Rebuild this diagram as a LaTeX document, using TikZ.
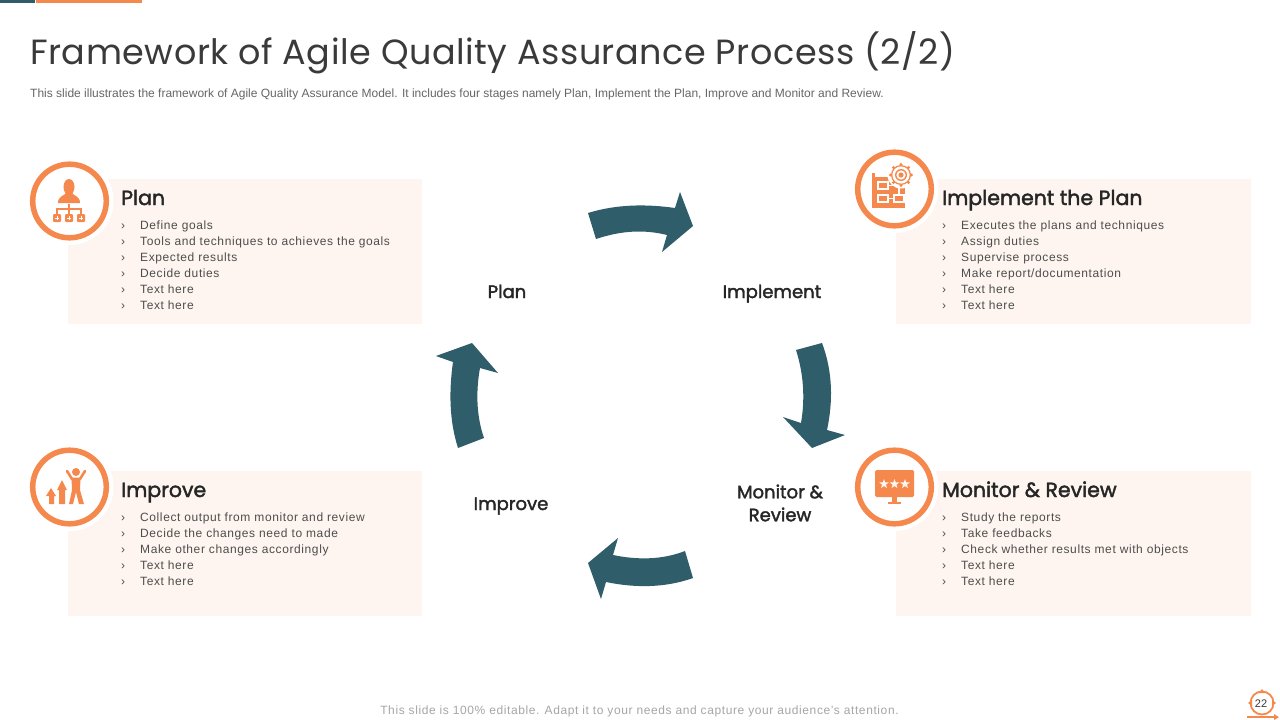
\documentclass[tikz,border=0pt]{standalone}
\usepackage{fontspec}
\usetikzlibrary{shapes.geometric}
\setmainfont{Liberation Sans}
\newfontfamily\gothic[LetterSpace=1.5]{Poppins}
\newfontfamily\gothicb[FakeBold=2]{Poppins}
\newfontfamily\bodyfont[LetterSpace=5]{Liberation Sans}
\definecolor{orng}{HTML}{F5894D}
\definecolor{teal}{HTML}{2F5D6A}
\definecolor{panel}{HTML}{FEF5F0}
\definecolor{ink}{HTML}{3A3A3A}
\definecolor{bodyc}{HTML}{4D4D4D}
\tikzset{
 panelbox/.style={fill=panel,draw=none},
 ringc/.style={draw=orng,line width=5.5pt,fill=white},
 halo/.style={fill=white,draw=none},
 head/.style={anchor=base west,inner sep=0,font=\gothicb\fontsize{20.5}{24}\selectfont,text=black!85},
 item/.style={anchor=base west,inner sep=0,font=\bodyfont\fontsize{12}{14}\selectfont,text=bodyc},
 mid/.style={anchor=base,inner sep=0,align=center,font=\gothicb\fontsize{18}{23}\selectfont,text=black!85},
 turnarrow/.style={fill=teal,draw=none},
 ico/.style={fill=orng,draw=none},
 icl/.style={draw=orng,line width=1.2pt,fill=none},
 wline/.style={draw=white,line width=1.2pt,fill=none},
}
\newcommand{\itemrow}[4]{% name, x, baseline, text
 \node[item,text=bodyc] (#1b) at (#2,#3) {›};
 \node[item] (#1) at (#2+19,#3) {#4};
}
\begin{document}
\begin{tikzpicture}[x=1pt,y=-1pt]
\useasboundingbox (0,0) rectangle (1280,720);
\fill[white] (0,0) rectangle (1280,720);
\fill[teal] (0,0) rectangle (35,3);
\fill[orng] (36,0) rectangle (142,3);
\node[anchor=base west,inner sep=0,text=ink,font=\gothic\fontsize{35}{40}\selectfont] (title) at (30,64) {Framework of Agile Quality Assurance Process (2/2)};
\node[anchor=base west,inner sep=0,text=black!60,font=\fontsize{12}{14}\selectfont] (sub) at (30,97) {This slide illustrates the framework of Agile Quality Assurance Model. It includes four stages namely Plan, Implement the Plan, Improve and Monitor and Review.};
% panels
\fill[panelbox] (68,179) rectangle (422,324);
\fill[panelbox] (896,179) rectangle (1251,324);
\fill[panelbox] (68,471) rectangle (422,616);
\fill[panelbox] (896,471) rectangle (1251,616);
% rings
\foreach \n/\cx/\cy in {a/69.5/201,b/894.5/189,c/69.5/487,d/894.5/487}{
 \fill[halo] (\cx,\cy) circle (44);
 \draw[ringc] (\cx,\cy) circle (36.8);
}
% heads
\node[head] (h1) at (121,205) {Plan};
\node[head] (h2) at (942,205) {Implement the Plan};
\node[head] (h3) at (121,497) {Improve};
\node[head] (h4) at (942,497) {Monitor \& Review};
% lists
\itemrow{p1}{121}{229}{Define goals}
\itemrow{p2}{121}{245}{Tools and techniques to achieves the goals}
\itemrow{p3}{121}{261}{Expected results}
\itemrow{p4}{121}{277}{Decide duties}
\itemrow{p5}{121}{293}{Text here}
\itemrow{p6}{121}{309}{Text here}
\itemrow{q1}{942}{229}{Executes the plans and techniques}
\itemrow{q2}{942}{245}{Assign duties}
\itemrow{q3}{942}{261}{Supervise process}
\itemrow{q4}{942}{277}{Make report/documentation}
\itemrow{q5}{942}{293}{Text here}
\itemrow{q6}{942}{309}{Text here}
\itemrow{r1}{121}{521}{Collect output from monitor and review}
\itemrow{r2}{121}{537}{Decide the changes need to made}
\itemrow{r3}{121}{553}{Make other changes accordingly}
\itemrow{r4}{121}{569}{Text here}
\itemrow{r5}{121}{585}{Text here}
\itemrow{s1}{942}{521}{Study the reports}
\itemrow{s2}{942}{537}{Take feedbacks}
\itemrow{s3}{942}{553}{Check whether results met with objects}
\itemrow{s4}{942}{569}{Text here}
\itemrow{s5}{942}{585}{Text here}
% middle labels
\node[mid] (m1) at (507,298) {Plan};
\node[mid] (m2) at (772,298) {Implement};
\node[mid,anchor=center] (m3) at (780,503) {Monitor \&\\Review};
\node[mid] (m4) at (511,510) {Improve};
% arrows
\fill[turnarrow] (588,213) .. controls (617,204) and (647,204) .. (675,208) -- (680,192) -- (693,226) -- (662,252) -- (667,235) .. controls (643,229) and (620,231) .. (596,239) -- cycle;
\fill[turnarrow] (822,343) .. controls (833,372) and (833,402) .. (827,430) -- (845,435) -- (812,448) -- (783,417) -- (801,423) .. controls (805,400) and (804,375) .. (796,350) -- cycle;
\fill[turnarrow] (693,578) .. controls (665,588) and (635,588) .. (606,582) -- (601,599) -- (588,563) -- (618,538) -- (613,555) .. controls (637,560) and (662,560) .. (685,551) -- cycle;
\fill[turnarrow] (458,448) .. controls (449,420) and (449,390) .. (453,362) -- (436,356) -- (472,343) -- (498,373) -- (480,368) .. controls (476,390) and (476,415) .. (484,438) -- cycle;
% icon: plan
\fill[ico] (69,187) ellipse (5.5 and 8);
\fill[ico] (58,203) .. controls (58,196) and (64,196) .. (66,193) -- (72,193) .. controls (74,196) and (80,196) .. (80,203) -- cycle;
\draw[icl] (69,204) -- (69,210) (57,214) -- (57,209) -- (81,209) -- (81,214) (69,209) -- (69,214);
\foreach \x in {57,69,81}{\fill[ico,rounded corners=1pt] (\x-4,214) rectangle (\x+4,222); \fill[white] (\x-1.8,217.5) rectangle (\x+1.8,218.5); \fill[white] (\x-.5,216.2) rectangle (\x+.5,219.8);}
% icon: implement
\fill[ico] (872,173) rectangle (875,206);
\fill[ico] (872,206) rectangle (905,208);
\fill[ico] (875,177) rectangle (905,206);
\draw[wline] (878,182) rectangle (888,189);
\draw[wline] (878,195) rectangle (888,202);
\draw[wline] (894,195) rectangle (904,202);
\draw[wline] (888,198.5) -- (894,198.5) (888,185.5) -- (899,185.5) -- (899,195);
\fill[white] (901,175) circle (13.5);
\foreach \a in {0,45,...,315}{\fill[ico] (901,175) ++(\a:10.5) circle (1.7);}
\fill[ico] (901,175) circle (10);
\fill[white] (901,175) circle (8.6);
\fill[ico] (901,175) circle (6);
\fill[white] (901,175) circle (4.6);
\fill[ico] (901,175) circle (2.6);
% icon: improve
\fill[ico] (49,504) -- (49,496) -- (46,496) -- (51,488) -- (56,496) -- (54,496) -- (54,504) -- cycle;
\fill[ico] (59,504) -- (59,490) -- (57,490) -- (62,480) -- (67,490) -- (65,490) -- (65,504) -- cycle;
\fill[ico] (76,472) circle (4);
\draw[orng,line width=2.6pt,line join=round,line cap=round] (67,471) -- (72,479) -- (80,479) -- (85,471);
\fill[ico] (71.5,478) -- (80.5,478) -- (80,490) -- (84,504) -- (79,504) -- (76,492) -- (73,504) -- (69,504) -- (72,490) -- cycle;
% icon: monitor
\fill[ico,rounded corners=1.5pt] (875,470) rectangle (914,497);
\foreach \x in {884,894.5,905}{\node[star,star points=5,star point ratio=2.5,fill=panel,draw=none,inner sep=0,minimum size=10pt] (st\x) at (\x,484) {};}
\fill[ico] (892,497) rectangle (897,502);
\fill[ico] (888,502) rectangle (901,504);
% footer
\node[anchor=base,inner sep=0,text=black!35,font=\addfontfeature{LetterSpace=5}\fontsize{12}{14}\selectfont] (foot) at (639.5,714) {This slide is 100\% editable. Adapt it to your needs and capture your audience's attention.};
\draw[orng,line width=1.8pt] (1262,703) circle (11.5);
\fill[orng] (1247,716.2) rectangle (1275,718.2);
\fill[orng] (1274,714) -- (1279,717.2) -- (1274,720) -- cycle;
\fill[orng] (1259,693) -- (1262,689) -- (1265,693) -- cycle;
\fill[orng] (1272,700) -- (1276,703) -- (1272,706) -- cycle;
\fill[orng] (1252,700) -- (1248,703) -- (1252,706) -- cycle;
\node[anchor=center,inner sep=0,text=ink,font=\fontsize{11}{12}\selectfont] (pg) at (1261,704) {22};
\end{tikzpicture}
\end{document}
